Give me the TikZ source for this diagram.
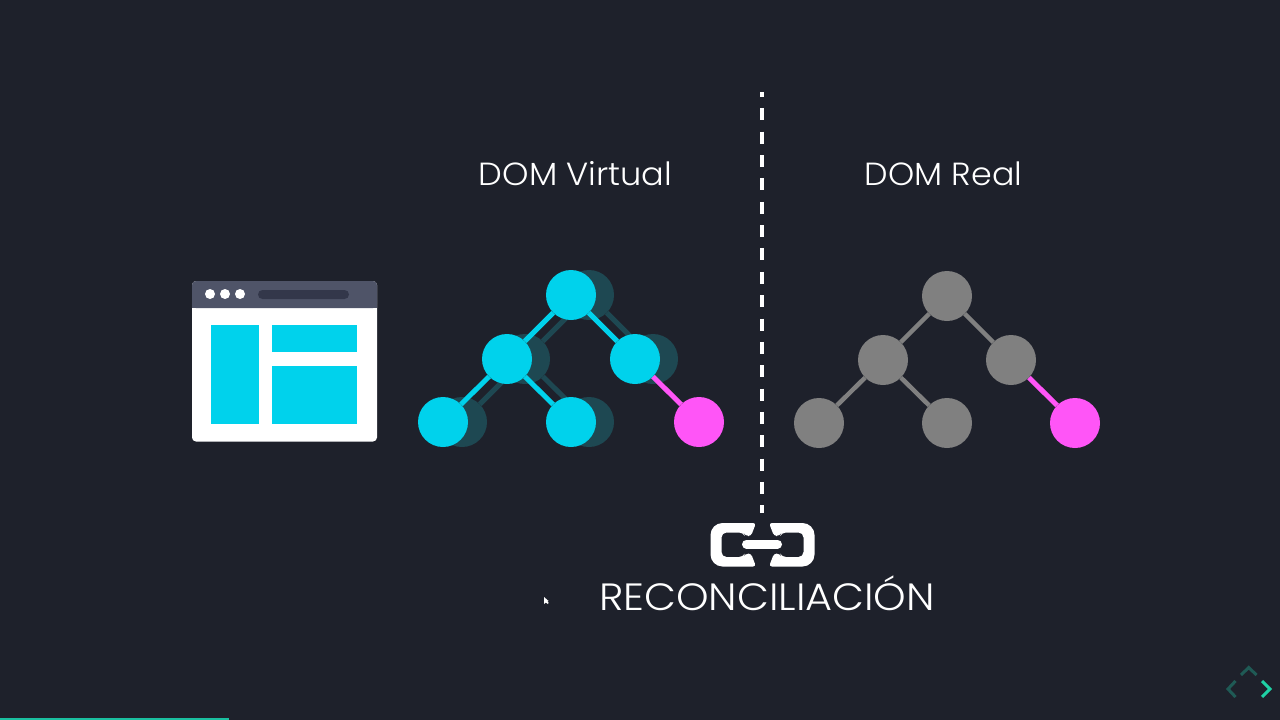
\documentclass[tikz,border=0pt]{standalone}
\usepackage{fontspec}
\usepackage{graphicx}
\setmainfont{Poppins Light}
\definecolor{bg}{HTML}{1E212B}
\definecolor{cy}{HTML}{00D2EC}
\definecolor{shade}{HTML}{1E4852}
\definecolor{pk}{HTML}{FF55F7}
\definecolor{gr}{HTML}{808080}
\definecolor{bar}{HTML}{4F5468}
\definecolor{addr}{HTML}{33374A}
\definecolor{teal}{HTML}{1ABFA0}
\definecolor{navdim}{HTML}{1F5A55}
\definecolor{navon}{HTML}{1FD1A5}
\tikzset{
  dot/.style={circle,inner sep=0pt,minimum size=50pt,fill=#1,draw=none},
  lnk/.style={line width=5pt,draw=#1},
  glnk/.style={line width=4.5pt,draw=#1},
  title/.style={text=white,anchor=base,inner sep=0pt,font=\fontsize{32}{36}\selectfont},
  nav/.style={line width=3pt,draw=#1,fill=none},
  pane/.style={fill=cy,draw=none}
}
\newcommand{\linkhalf}{%
  \fill[white,rounded corners=3pt] (756,523)
    [rounded corners=12pt] -- (710.5,523) -- (710.5,566.5)
    [rounded corners=3pt] -- (756,566.5) -- (751,553.5)
    [rounded corners=4pt] -- (745,553.5) -- (743,557)
    [rounded corners=5pt] -- (721.5,557) -- (721.5,532.5)
    [rounded corners=4pt] -- (743,532.5) -- (745,536)
    [rounded corners=3pt] -- (751,536) -- cycle;}
\begin{document}
\begin{tikzpicture}[x=1pt,y=-1pt]
\useasboundingbox[fill=bg] (0,0) rectangle (1280,720);
% progress bar
\fill[teal] (0,718) rectangle (229,720);
% window
\fill[white,rounded corners=4pt] (192,281) rectangle (377,441.5);
\fill[bar,rounded corners=4pt] (192,308) -- (192,281) -- (377,281) -- (377,308) -- cycle;
\fill[bar] (192,295) rectangle (377,308);
\foreach \x in {210,225,240}{\fill[white] (\x,294) circle[radius=5pt];}
\fill[addr,rounded corners=4.5pt] (258,290) rectangle (349,299);
\path[pane] (211,325) rectangle (259,424);
\path[pane] (272,325) rectangle (357,352);
\path[pane] (272,366) rectangle (357,424);
% shadow tree
\node[dot=shade] (sa) at (589,295) {};
\node[dot=shade] (sb) at (525,359) {};
\node[dot=shade] (sc) at (653,359) {};
\node[dot=shade] (sd) at (462,422) {};
\node[dot=shade] (se) at (589,422) {};
\draw[lnk=shade] (sa) -- (sb);
\draw[lnk=shade] (sa) -- (sc);
\draw[lnk=shade] (sb) -- (sd);
\draw[lnk=shade] (sb) -- (se);
% virtual tree
\node[dot=cy] (a) at (571,295) {};
\node[dot=cy] (b) at (507,359) {};
\node[dot=cy] (c) at (635,359) {};
\node[dot=cy] (d) at (443,422) {};
\node[dot=cy] (e) at (571,422) {};
\node[dot=pk] (f) at (699,422) {};
\draw[lnk=cy] (a) -- (b);
\draw[lnk=cy] (a) -- (c);
\draw[lnk=cy] (b) -- (d);
\draw[lnk=cy] (b) -- (e);
\draw[lnk=pk] (c) -- (f);
% real tree
\node[dot=gr] (ra) at (947,296) {};
\node[dot=gr] (rb) at (883,360) {};
\node[dot=gr] (rc) at (1011,360) {};
\node[dot=gr] (rd) at (819,423) {};
\node[dot=gr] (re) at (947,423) {};
\node[dot=pk] (rf) at (1075,423) {};
\draw[glnk=gr] (ra) -- (rb);
\draw[glnk=gr] (ra) -- (rc);
\draw[glnk=gr] (rb) -- (rd);
\draw[glnk=gr] (rb) -- (re);
\draw[lnk=pk] (rc) -- (rf);
% divider
\coordinate (top) at (762,92);
\coordinate (bot) at (762,513);
\draw[white,line width=3.6pt,dash pattern=on 12pt off 11.35pt,dash phase=7pt] (top) -- (bot);
% titles
\node[title] (t1) at (575.5,185) {\scalebox{1.05}[1]{DOM Virtual}};
\node[title] (t2) at (943.5,185) {\scalebox{1.04}[1]{DOM Real}};
% chain
\linkhalf
\begin{scope}[shift={(1525,0)},xscale=-1]
\linkhalf
\end{scope}
\draw[white,line width=9pt,line cap=round] (746.5,544) -- (777.5,544);
\node[title,font=\fontsize{38}{42}\selectfont] (t3) at (767,610) {\scalebox{1.09}[1]{RECONCILIACIÓN}};
% cursor
\fill[white] (544,597) -- (544,604) -- (545.8,602.6) -- (548,604) -- (548.6,602.6) -- (547.2,601.5) -- (548.6,601) -- cycle;
% nav
\draw[nav=navdim] (1241,675) -- (1248.7,667.5) -- (1256.5,675);
\draw[nav=navdim] (1235.5,681) -- (1228,689) -- (1235.5,697);
\draw[nav=navon] (1262,681) -- (1270,689) -- (1262,697);
\end{tikzpicture}
\end{document}
